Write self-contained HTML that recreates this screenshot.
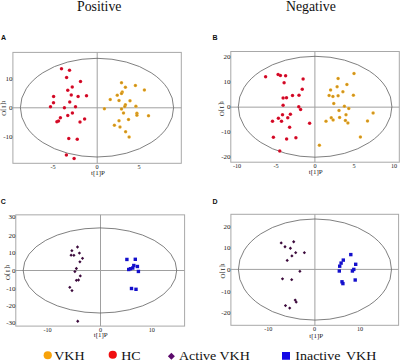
<!DOCTYPE html>
<html><head><meta charset="utf-8"><style>
html,body{margin:0;padding:0;background:#fff;}
body{width:400px;height:361px;overflow:hidden;position:relative;}
svg{position:absolute;left:0;top:0;}
.tk{font-family:"Liberation Serif",serif;font-size:7px;fill:#222;}
.tkx{font-family:"Liberation Serif",serif;font-size:6.2px;fill:#222;}
.lb{font-family:"Liberation Serif",serif;font-size:7px;fill:#222;}
.pl{font-family:"Liberation Sans",sans-serif;font-size:7px;font-weight:bold;fill:#111;}
.ttl{font-family:"Liberation Serif",serif;font-size:13.8px;fill:#111;}
.lg{font-family:"Liberation Serif",serif;font-size:14px;fill:#111;}
</style></head><body>
<svg width="400" height="361" viewBox="0 0 400 361">
<defs>
<radialGradient id="gr" cx="0.5" cy="0.5" r="0.5"><stop offset="0" stop-color="#b80a28"/><stop offset="0.6" stop-color="#d40c2a"/><stop offset="1" stop-color="#ec1a30"/></radialGradient>
<radialGradient id="go" cx="0.5" cy="0.5" r="0.5"><stop offset="0" stop-color="#b08a2c"/><stop offset="0.6" stop-color="#dc9c22"/><stop offset="1" stop-color="#f4b430"/></radialGradient>
</defs>
<text x="77" y="11.2" class="ttl">Positive</text>
<text x="286" y="11.2" class="ttl">Negative</text>
<text x="1" y="40" class="pl">A</text>
<text x="212.6" y="40" class="pl">B</text>
<text x="0.8" y="204" class="pl">C</text>
<text x="212.5" y="204" class="pl">D</text>
<rect x="12.9" y="52.4" width="168.4" height="110.9" fill="none" stroke="#a8a8a8" stroke-width="1"/>
<line x1="97.2" y1="52.4" x2="97.2" y2="163.3" stroke="#a0a0a0" stroke-width="1"/>
<line x1="12.9" y1="107.8" x2="181.3" y2="107.8" stroke="#a0a0a0" stroke-width="1"/>
<ellipse cx="97.0" cy="107.65" rx="76.6" ry="49.35" fill="none" stroke="#606060" stroke-width="0.8"/>
<text x="12.6" y="81.2" class="tk" text-anchor="end">10</text>
<text x="12.6" y="109.95" class="tk" text-anchor="end">0</text>
<text x="12.6" y="139.45" class="tk" text-anchor="end">-10</text>
<text x="53" y="168.8" class="tkx" text-anchor="middle">-5</text>
<text x="97" y="168.8" class="tkx" text-anchor="middle">0</text>
<text x="139" y="168.8" class="tkx" text-anchor="middle">5</text>
<text x="0" y="0" class="lb" text-anchor="middle" transform="translate(3.6,108.3) rotate(90)" dominant-baseline="central">t[1]O</text>
<text x="98" y="172.5" class="lb" text-anchor="middle" dominant-baseline="central">t[1]P</text>
<rect x="230.8" y="51.5" width="168.5" height="110.69999999999999" fill="none" stroke="#a8a8a8" stroke-width="1"/>
<line x1="314.9" y1="51.5" x2="314.9" y2="162.2" stroke="#a0a0a0" stroke-width="1"/>
<line x1="230.8" y1="107.15" x2="399.3" y2="107.15" stroke="#a0a0a0" stroke-width="1"/>
<ellipse cx="315.1" cy="106.75" rx="76.8" ry="50.45" fill="none" stroke="#606060" stroke-width="0.8"/>
<text x="230.5" y="59.2" class="tk" text-anchor="end">20</text>
<text x="230.5" y="84.45" class="tk" text-anchor="end">10</text>
<text x="230.5" y="109.2" class="tk" text-anchor="end">0</text>
<text x="230.5" y="134.45" class="tk" text-anchor="end">-10</text>
<text x="230.5" y="159.45" class="tk" text-anchor="end">-20</text>
<text x="237" y="167.7" class="tkx" text-anchor="middle">-10</text>
<text x="276" y="167.7" class="tkx" text-anchor="middle">-5</text>
<text x="315" y="167.7" class="tkx" text-anchor="middle">0</text>
<text x="354" y="167.7" class="tkx" text-anchor="middle">5</text>
<text x="394" y="167.7" class="tkx" text-anchor="middle">10</text>
<text x="0" y="0" class="lb" text-anchor="middle" transform="translate(221.5,108.75) rotate(90)" dominant-baseline="central">t[1]O</text>
<text x="315.75" y="172.3" class="lb" text-anchor="middle" dominant-baseline="central">t[1]P</text>
<rect x="15.8" y="214.85" width="168.79999999999998" height="111.25000000000003" fill="none" stroke="#a8a8a8" stroke-width="1"/>
<line x1="100.5" y1="214.85" x2="100.5" y2="326.1" stroke="#a0a0a0" stroke-width="1"/>
<line x1="15.8" y1="270.5" x2="184.6" y2="270.5" stroke="#a0a0a0" stroke-width="1"/>
<ellipse cx="99.95" cy="270.45" rx="76.75" ry="42.55" fill="none" stroke="#606060" stroke-width="0.8"/>
<text x="15.5" y="219.45" class="tk" text-anchor="end">30</text>
<text x="15.5" y="238.2" class="tk" text-anchor="end">20</text>
<text x="15.5" y="254.95" class="tk" text-anchor="end">10</text>
<text x="15.5" y="272.95" class="tk" text-anchor="end">0</text>
<text x="15.5" y="291.2" class="tk" text-anchor="end">-10</text>
<text x="15.5" y="308.45" class="tk" text-anchor="end">-20</text>
<text x="15.5" y="325.45" class="tk" text-anchor="end">-30</text>
<text x="47.5" y="331.6" class="tkx" text-anchor="middle">-10</text>
<text x="100.5" y="331.6" class="tkx" text-anchor="middle">0</text>
<text x="151.75" y="331.6" class="tkx" text-anchor="middle">10</text>
<text x="0" y="0" class="lb" text-anchor="middle" transform="translate(7.8,272.5) rotate(90)" dominant-baseline="central">t[1]O</text>
<text x="100.75" y="335" class="lb" text-anchor="middle" dominant-baseline="central">t[1]P</text>
<rect x="230.9" y="214.3" width="167.70000000000002" height="111.0" fill="none" stroke="#a8a8a8" stroke-width="1"/>
<line x1="314.9" y1="214.3" x2="314.9" y2="325.3" stroke="#a0a0a0" stroke-width="1"/>
<line x1="230.9" y1="269.4" x2="398.6" y2="269.4" stroke="#a0a0a0" stroke-width="1"/>
<ellipse cx="314.95" cy="269.55" rx="76.55" ry="50.55" fill="none" stroke="#606060" stroke-width="0.8"/>
<text x="230.6" y="229.2" class="tk" text-anchor="end">20</text>
<text x="230.6" y="250.45" class="tk" text-anchor="end">10</text>
<text x="230.6" y="272.45" class="tk" text-anchor="end">0</text>
<text x="230.6" y="293.7" class="tk" text-anchor="end">-10</text>
<text x="230.6" y="315.45" class="tk" text-anchor="end">-20</text>
<text x="268.25" y="330.8" class="tkx" text-anchor="middle">-10</text>
<text x="314.5" y="330.8" class="tkx" text-anchor="middle">0</text>
<text x="360" y="330.8" class="tkx" text-anchor="middle">10</text>
<text x="0" y="0" class="lb" text-anchor="middle" transform="translate(223,271) rotate(90)" dominant-baseline="central">t[1]O</text>
<text x="316.25" y="335.6" class="lb" text-anchor="middle" dominant-baseline="central">t[1]P</text>
<circle cx="61.5" cy="68.7" r="1.75" fill="url(#gr)"/>
<circle cx="69.5" cy="70.2" r="1.75" fill="url(#gr)"/>
<circle cx="66.6" cy="77.60000000000001" r="1.75" fill="url(#gr)"/>
<circle cx="80.5" cy="81.45" r="1.75" fill="url(#gr)"/>
<circle cx="72.25" cy="87.10000000000001" r="1.75" fill="url(#gr)"/>
<circle cx="67.75" cy="90.3" r="1.75" fill="url(#gr)"/>
<circle cx="53.6" cy="96.45" r="1.75" fill="url(#gr)"/>
<circle cx="71.25" cy="94.95" r="1.75" fill="url(#gr)"/>
<circle cx="78.1" cy="96.45" r="1.75" fill="url(#gr)"/>
<circle cx="86.5" cy="95.7" r="1.75" fill="url(#gr)"/>
<circle cx="53.5" cy="102.7" r="1.75" fill="url(#gr)"/>
<circle cx="69.75" cy="102.10000000000001" r="1.75" fill="url(#gr)"/>
<circle cx="50.5" cy="106.7" r="1.75" fill="url(#gr)"/>
<circle cx="64.4" cy="107.7" r="1.75" fill="url(#gr)"/>
<circle cx="75.5" cy="106.7" r="1.75" fill="url(#gr)"/>
<circle cx="72.4" cy="113.10000000000001" r="1.75" fill="url(#gr)"/>
<circle cx="67.75" cy="115.45" r="1.75" fill="url(#gr)"/>
<circle cx="60.4" cy="117.7" r="1.75" fill="url(#gr)"/>
<circle cx="56.9" cy="121.7" r="1.75" fill="url(#gr)"/>
<circle cx="58.5" cy="121.10000000000001" r="1.75" fill="url(#gr)"/>
<circle cx="80" cy="122.10000000000001" r="1.75" fill="url(#gr)"/>
<circle cx="84.6" cy="118.95" r="1.75" fill="url(#gr)"/>
<circle cx="68.75" cy="138.6" r="1.75" fill="url(#gr)"/>
<circle cx="77.25" cy="139.29999999999998" r="1.75" fill="url(#gr)"/>
<circle cx="66.4" cy="154.95" r="1.75" fill="url(#gr)"/>
<circle cx="74.1" cy="158.6" r="1.75" fill="url(#gr)"/>
<circle cx="121.5" cy="82.7" r="1.75" fill="url(#go)"/>
<circle cx="125.4" cy="87.3" r="1.75" fill="url(#go)"/>
<circle cx="135.4" cy="85.45" r="1.75" fill="url(#go)"/>
<circle cx="144.4" cy="89.95" r="1.75" fill="url(#go)"/>
<circle cx="122.25" cy="92.10000000000001" r="1.75" fill="url(#go)"/>
<circle cx="121.5" cy="93.60000000000001" r="1.75" fill="url(#go)"/>
<circle cx="117.25" cy="95.2" r="1.75" fill="url(#go)"/>
<circle cx="110.25" cy="99.60000000000001" r="1.75" fill="url(#go)"/>
<circle cx="119" cy="100.60000000000001" r="1.75" fill="url(#go)"/>
<circle cx="130" cy="100.8" r="1.75" fill="url(#go)"/>
<circle cx="125.4" cy="104.8" r="1.75" fill="url(#go)"/>
<circle cx="124.75" cy="106.45" r="1.75" fill="url(#go)"/>
<circle cx="135.9" cy="106.2" r="1.75" fill="url(#go)"/>
<circle cx="104.4" cy="108.7" r="1.75" fill="url(#go)"/>
<circle cx="121.5" cy="108.95" r="1.75" fill="url(#go)"/>
<circle cx="123.5" cy="113.10000000000001" r="1.75" fill="url(#go)"/>
<circle cx="136.9" cy="113.3" r="1.75" fill="url(#go)"/>
<circle cx="136.9" cy="115.2" r="1.75" fill="url(#go)"/>
<circle cx="148.5" cy="115.8" r="1.75" fill="url(#go)"/>
<circle cx="128.5" cy="119.60000000000001" r="1.75" fill="url(#go)"/>
<circle cx="119" cy="120.8" r="1.75" fill="url(#go)"/>
<circle cx="114.4" cy="125.2" r="1.75" fill="url(#go)"/>
<circle cx="120" cy="127.10000000000001" r="1.75" fill="url(#go)"/>
<circle cx="125.6" cy="131.7" r="1.75" fill="url(#go)"/>
<circle cx="129.1" cy="137.1" r="1.75" fill="url(#go)"/>
<circle cx="265.6" cy="76.7" r="1.75" fill="url(#gr)"/>
<circle cx="278.1" cy="74.60000000000001" r="1.75" fill="url(#gr)"/>
<circle cx="280.4" cy="75.45" r="1.75" fill="url(#gr)"/>
<circle cx="285.6" cy="75.8" r="1.75" fill="url(#gr)"/>
<circle cx="284.1" cy="82.7" r="1.75" fill="url(#gr)"/>
<circle cx="303.1" cy="78.95" r="1.75" fill="url(#gr)"/>
<circle cx="302.25" cy="89.3" r="1.75" fill="url(#gr)"/>
<circle cx="292.5" cy="95.45" r="1.75" fill="url(#gr)"/>
<circle cx="299" cy="95.2" r="1.75" fill="url(#gr)"/>
<circle cx="283.1" cy="97.95" r="1.75" fill="url(#gr)"/>
<circle cx="286.5" cy="97.7" r="1.75" fill="url(#gr)"/>
<circle cx="283.1" cy="105.3" r="1.75" fill="url(#gr)"/>
<circle cx="298.75" cy="106.8" r="1.75" fill="url(#gr)"/>
<circle cx="300.6" cy="109.60000000000001" r="1.75" fill="url(#gr)"/>
<circle cx="282.5" cy="114.8" r="1.75" fill="url(#gr)"/>
<circle cx="290.4" cy="114.2" r="1.75" fill="url(#gr)"/>
<circle cx="278.4" cy="118.3" r="1.75" fill="url(#gr)"/>
<circle cx="287.75" cy="117.7" r="1.75" fill="url(#gr)"/>
<circle cx="272.5" cy="121.2" r="1.75" fill="url(#gr)"/>
<circle cx="281.5" cy="121.2" r="1.75" fill="url(#gr)"/>
<circle cx="309.6" cy="123.3" r="1.75" fill="url(#gr)"/>
<circle cx="289.6" cy="127.3" r="1.75" fill="url(#gr)"/>
<circle cx="273.4" cy="137.29999999999998" r="1.75" fill="url(#gr)"/>
<circle cx="286.6" cy="138.95" r="1.75" fill="url(#gr)"/>
<circle cx="295.9" cy="137.7" r="1.75" fill="url(#gr)"/>
<circle cx="279.75" cy="151.1" r="1.75" fill="url(#gr)"/>
<circle cx="354" cy="73.55000000000001" r="1.75" fill="url(#go)"/>
<circle cx="338.1" cy="78.55000000000001" r="1.75" fill="url(#go)"/>
<circle cx="346.9" cy="84.55000000000001" r="1.75" fill="url(#go)"/>
<circle cx="337.1" cy="86.65" r="1.75" fill="url(#go)"/>
<circle cx="330.6" cy="89.9" r="1.75" fill="url(#go)"/>
<circle cx="342.9" cy="91.75" r="1.75" fill="url(#go)"/>
<circle cx="329.1" cy="95.4" r="1.75" fill="url(#go)"/>
<circle cx="332.9" cy="96.4" r="1.75" fill="url(#go)"/>
<circle cx="338.1" cy="95.75" r="1.75" fill="url(#go)"/>
<circle cx="353.4" cy="95.15" r="1.75" fill="url(#go)"/>
<circle cx="333.75" cy="103.55000000000001" r="1.75" fill="url(#go)"/>
<circle cx="344.4" cy="106.25" r="1.75" fill="url(#go)"/>
<circle cx="348.75" cy="108.55000000000001" r="1.75" fill="url(#go)"/>
<circle cx="339" cy="110.4" r="1.75" fill="url(#go)"/>
<circle cx="346" cy="114.75" r="1.75" fill="url(#go)"/>
<circle cx="339.6" cy="117.4" r="1.75" fill="url(#go)"/>
<circle cx="331.25" cy="117.65" r="1.75" fill="url(#go)"/>
<circle cx="333.1" cy="119.9" r="1.75" fill="url(#go)"/>
<circle cx="326" cy="121.15" r="1.75" fill="url(#go)"/>
<circle cx="345.4" cy="120.4" r="1.75" fill="url(#go)"/>
<circle cx="347.9" cy="122.9" r="1.75" fill="url(#go)"/>
<circle cx="373.1" cy="113.05000000000001" r="1.75" fill="url(#go)"/>
<circle cx="367.5" cy="121.05000000000001" r="1.75" fill="url(#go)"/>
<circle cx="360.4" cy="137.05" r="1.75" fill="url(#go)"/>
<circle cx="319.4" cy="145.15" r="1.75" fill="url(#go)"/>
<path d="M77.5 245.35L79.15 247L77.5 248.65L75.85 247Z" fill="#3c0a3c"/>
<path d="M71.9 249.04999999999998L73.55000000000001 250.7L71.9 252.35L70.25 250.7Z" fill="#3c0a3c"/>
<path d="M79.4 251.45L81.05000000000001 253.1L79.4 254.75L77.75 253.1Z" fill="#3c0a3c"/>
<path d="M71.1 253.54999999999998L72.75 255.2L71.1 256.84999999999997L69.44999999999999 255.2Z" fill="#3c0a3c"/>
<path d="M73.9 253.65L75.55000000000001 255.3L73.9 256.95L72.25 255.3Z" fill="#3c0a3c"/>
<path d="M82.5 256.65000000000003L84.15 258.3L82.5 259.95L80.85 258.3Z" fill="#3c0a3c"/>
<path d="M79.9 260.15000000000003L81.55000000000001 261.8L79.9 263.45L78.25 261.8Z" fill="#3c0a3c"/>
<path d="M76.4 266.85L78.05000000000001 268.5L76.4 270.15L74.75 268.5Z" fill="#3c0a3c"/>
<path d="M74.9 269.95000000000005L76.55000000000001 271.6L74.9 273.25L73.25 271.6Z" fill="#3c0a3c"/>
<path d="M80.3 274.25L81.95 275.9L80.3 277.54999999999995L78.64999999999999 275.9Z" fill="#3c0a3c"/>
<path d="M76.4 278.65000000000003L78.05000000000001 280.3L76.4 281.95L74.75 280.3Z" fill="#3c0a3c"/>
<path d="M78.5 278.35L80.15 280L78.5 281.65L76.85 280Z" fill="#3c0a3c"/>
<path d="M69.8 285.65000000000003L71.45 287.3L69.8 288.95L68.14999999999999 287.3Z" fill="#3c0a3c"/>
<path d="M72 288.95000000000005L73.65 290.6L72 292.25L70.35 290.6Z" fill="#3c0a3c"/>
<path d="M77.75 319.6L79.4 321.25L77.75 322.9L76.1 321.25Z" fill="#3c0a3c"/>
<rect x="125.20" y="257.75" width="3.4" height="3.4" fill="#1410cc"/>
<rect x="133.60" y="257.60" width="3.4" height="3.4" fill="#1410cc"/>
<rect x="127.00" y="267.80" width="3.4" height="3.4" fill="#1410cc"/>
<rect x="128.80" y="267.05" width="3.4" height="3.4" fill="#1410cc"/>
<rect x="131.05" y="266.30" width="3.4" height="3.4" fill="#1410cc"/>
<rect x="132.10" y="263.80" width="3.4" height="3.4" fill="#1410cc"/>
<rect x="135.70" y="264.80" width="3.4" height="3.4" fill="#1410cc"/>
<rect x="136.70" y="269.75" width="3.4" height="3.4" fill="#1410cc"/>
<rect x="129.80" y="286.80" width="3.4" height="3.4" fill="#1410cc"/>
<rect x="134.30" y="287.60" width="3.4" height="3.4" fill="#1410cc"/>
<path d="M281.2 241.29999999999998L282.84999999999997 242.95L281.2 244.6L279.55 242.95Z" fill="#3c0a3c"/>
<path d="M293.7 240.1L295.34999999999997 241.75L293.7 243.4L292.05 241.75Z" fill="#3c0a3c"/>
<path d="M285 245.1L286.65 246.75L285 248.4L283.35 246.75Z" fill="#3c0a3c"/>
<path d="M290.4 246.6L292.04999999999995 248.25L290.4 249.9L288.75 248.25Z" fill="#3c0a3c"/>
<path d="M295.7 251.0L297.34999999999997 252.65L295.7 254.3L294.05 252.65Z" fill="#3c0a3c"/>
<path d="M304.4 251.0L306.04999999999995 252.65L304.4 254.3L302.75 252.65Z" fill="#3c0a3c"/>
<path d="M291.9 254.29999999999998L293.54999999999995 255.95L291.9 257.59999999999997L290.25 255.95Z" fill="#3c0a3c"/>
<path d="M287.2 258.8L288.84999999999997 260.45L287.2 262.09999999999997L285.55 260.45Z" fill="#3c0a3c"/>
<path d="M299.9 269.70000000000005L301.54999999999995 271.35L299.9 273.0L298.25 271.35Z" fill="#3c0a3c"/>
<path d="M282.5 277.20000000000005L284.15 278.85L282.5 280.5L280.85 278.85Z" fill="#3c0a3c"/>
<path d="M291.7 278.0L293.34999999999997 279.65L291.7 281.29999999999995L290.05 279.65Z" fill="#3c0a3c"/>
<path d="M295.2 298.40000000000003L296.84999999999997 300.05L295.2 301.7L293.55 300.05Z" fill="#3c0a3c"/>
<path d="M296.2 300.40000000000003L297.84999999999997 302.05L296.2 303.7L294.55 302.05Z" fill="#3c0a3c"/>
<path d="M285.5 303.90000000000003L287.15 305.55L285.5 307.2L283.85 305.55Z" fill="#3c0a3c"/>
<path d="M289.7 306.40000000000003L291.34999999999997 308.05L289.7 309.7L288.05 308.05Z" fill="#3c0a3c"/>
<rect x="349.10" y="252.90" width="3.4" height="3.4" fill="#1410cc"/>
<rect x="341.60" y="258.40" width="3.4" height="3.4" fill="#1410cc"/>
<rect x="339.40" y="261.40" width="3.4" height="3.4" fill="#1410cc"/>
<rect x="338.00" y="264.50" width="3.4" height="3.4" fill="#1410cc"/>
<rect x="337.60" y="269.30" width="3.4" height="3.4" fill="#1410cc"/>
<rect x="354.00" y="262.60" width="3.4" height="3.4" fill="#1410cc"/>
<rect x="352.10" y="267.70" width="3.4" height="3.4" fill="#1410cc"/>
<rect x="350.70" y="269.30" width="3.4" height="3.4" fill="#1410cc"/>
<rect x="353.50" y="278.30" width="3.4" height="3.4" fill="#1410cc"/>
<rect x="340.30" y="280.10" width="3.4" height="3.4" fill="#1410cc"/>
<rect x="341.20" y="281.90" width="3.4" height="3.4" fill="#1410cc"/>
<circle cx="47.75" cy="355.25" r="4.1" fill="#f7a20a"/>
<text transform="translate(54.2,359.8) scale(1,0.95)" class="lg">VKH</text>
<circle cx="112.75" cy="354.75" r="4.1" fill="#f00e10"/>
<text transform="translate(121.2,359.8) scale(1,0.95)" class="lg">HC</text>
<path d="M171.4 352.75L174.9 356.25L171.4 359.75L167.9 356.25Z" fill="#5c0a6c"/>
<text transform="translate(179,359.8) scale(1,0.95)" class="lg">Active VKH</text>
<rect x="282" y="352" width="8" height="7.75" fill="#1408e6"/>
<text transform="translate(295.3,359.8) scale(1,0.95)" class="lg">Inactive</text><text transform="translate(346,359.8) scale(1,0.95)" class="lg">VKH</text>
</svg>
</body></html>
